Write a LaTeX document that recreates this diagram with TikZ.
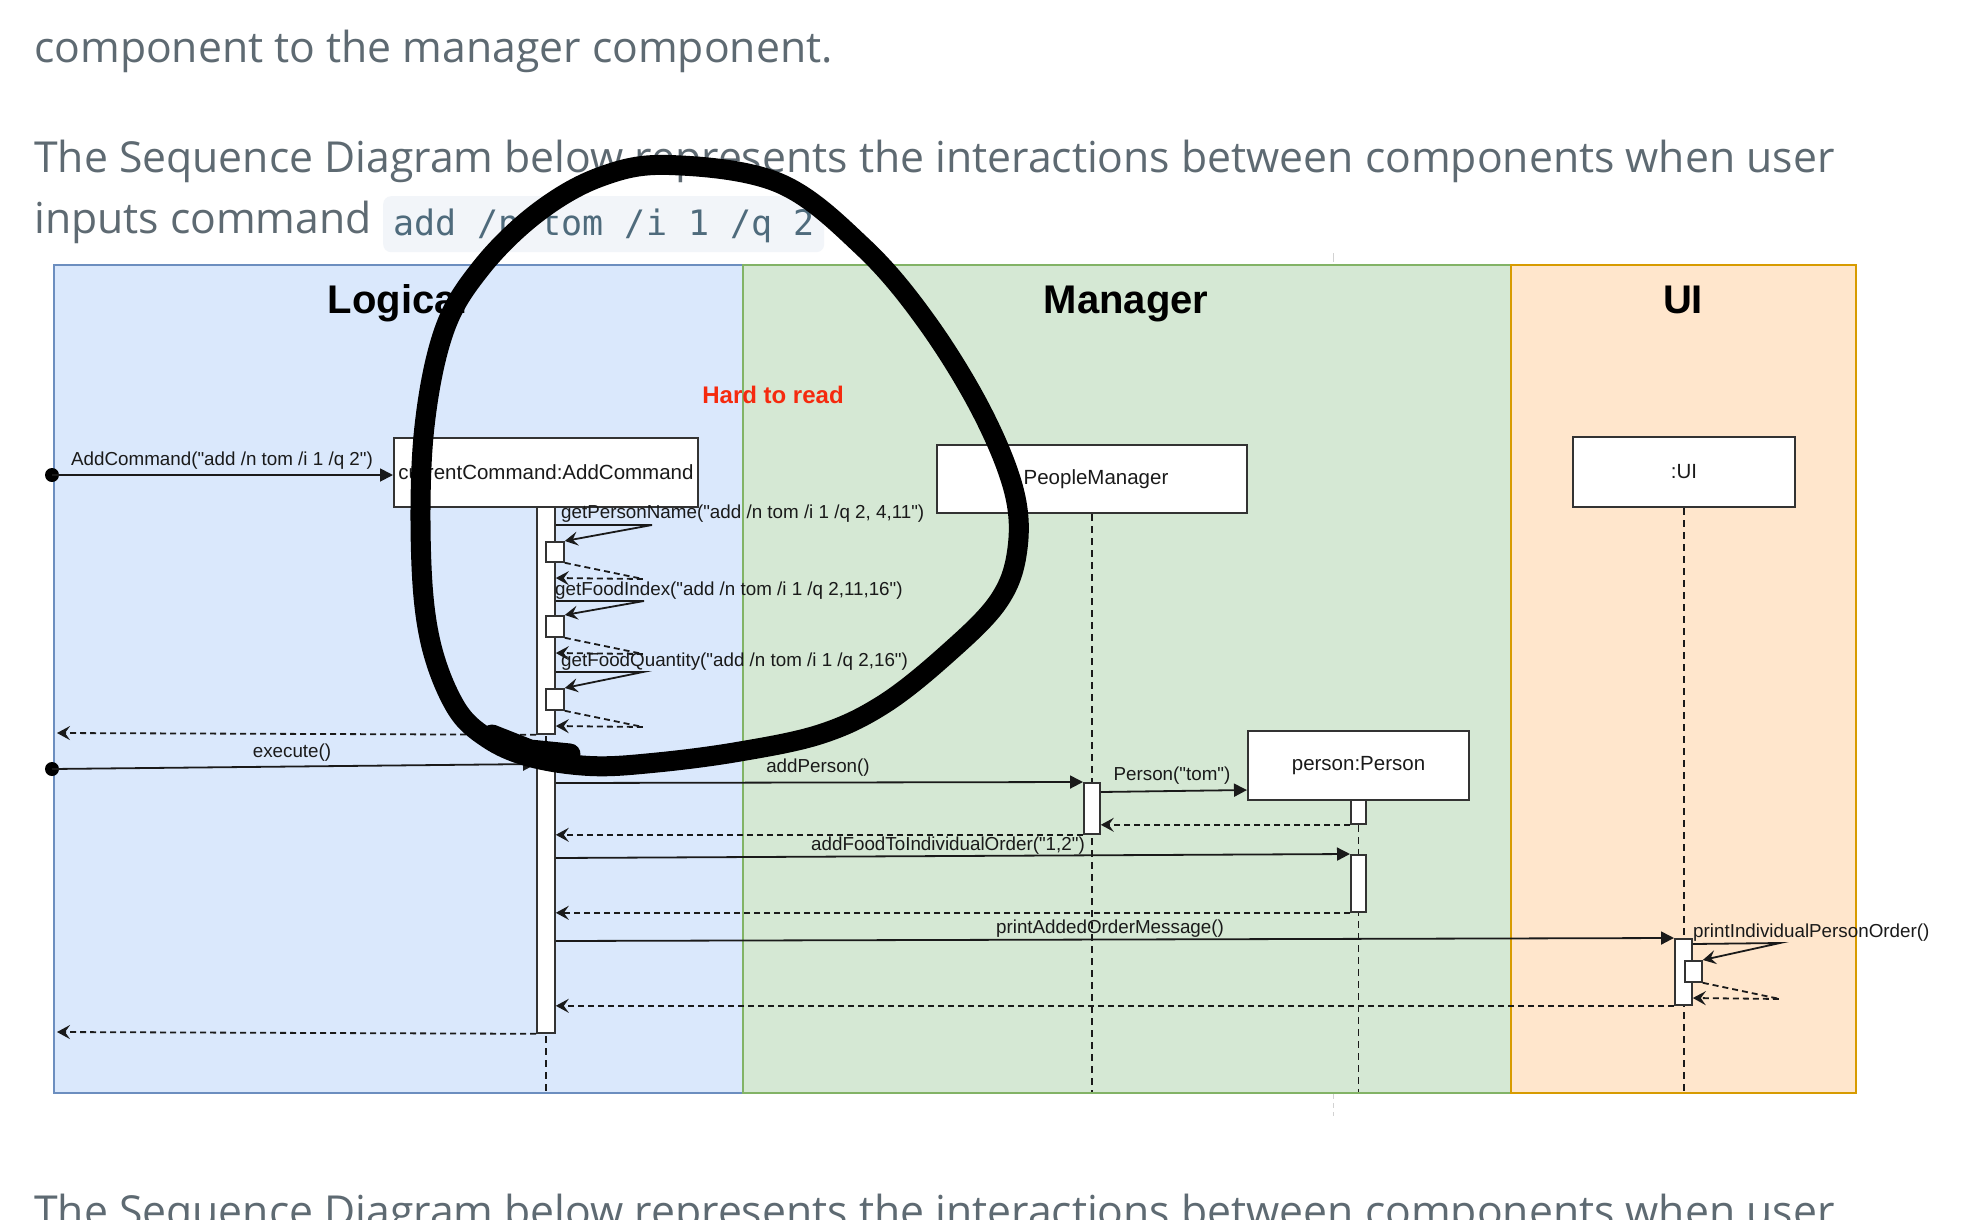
\documentclass[tikz,border=0pt]{standalone}
\usepackage{fontspec}
\setmainfont{Liberation Sans}[Ligatures=TeXOff]
\newfontfamily\pagefont{Open Sans}
\newfontfamily\codefont{DejaVu Sans Mono}
\usetikzlibrary{arrows.meta,calc}
\definecolor{logicfill}{HTML}{DAE8FC}
\definecolor{logicline}{HTML}{6C8EBF}
\definecolor{mgrfill}{HTML}{D5E8D4}
\definecolor{mgrline}{HTML}{82B366}
\definecolor{uifill}{HTML}{FFE6CC}
\definecolor{uiline}{HTML}{D79B00}
\definecolor{pagetext}{HTML}{5E6A72}
\definecolor{codetext}{HTML}{4F6B7C}
\definecolor{codebg}{HTML}{F2F5F9}
\definecolor{hardred}{HTML}{F52A0E}
\definecolor{ink}{HTML}{1A1A1A}
\definecolor{barline}{HTML}{333333}
\begin{document}
\begin{tikzpicture}[x=1pt,y=-1pt,
  lane/.style={line width=2pt, inner sep=0pt, anchor=north west},
  lanetitle/.style={font=\fontsize{40}{48}\selectfont\bfseries, text=black, inner sep=0pt, anchor=base},
  objbox/.style={draw=barline, fill=white, line width=2pt, inner sep=0pt, anchor=north west, font=\fontsize{20.5}{24}\selectfont, text=ink},
  bar/.style={draw=barline, fill=white, line width=1.8pt, inner sep=0pt, anchor=north west},
  lifeline/.style={draw=ink, line width=1.6pt, dash pattern=on 7pt off 5pt},
  msg/.style={draw=ink, line width=1.8pt, -{Triangle[length=13pt,width=13pt]}},
  ret/.style={draw=ink, line width=1.8pt, dash pattern=on 6pt off 4pt, -{Stealth[length=13pt,width=14pt,inset=5pt]}},
  selfmsg/.style={draw=ink, line width=1.8pt, -{Stealth[length=13pt,width=14pt,inset=5pt]}},
  lbl/.style={font=\fontsize{18.8}{22}\selectfont, text=ink, inner sep=0pt},
  ptext/.style={font=\pagefont\fontsize{42.7}{50}\selectfont, text=pagetext, inner sep=0pt, anchor=base west},
  startdot/.style={circle, fill=black, inner sep=0pt, minimum size=14pt},
]
\fill[white] (0,0) rectangle (1988,1220);
\useasboundingbox (0,0) rectangle (1988,1220);

% page text
\node[ptext] (p1) at (34,63) {component to the manager component.};
\node[ptext] (p2) at (34,172) {The Sequence Diagram below represents the interactions between components when user};
\node[ptext] (p3) at (34,233) {inputs command};
\node[fill=codebg, rounded corners=8pt, anchor=north west, minimum width=441pt, minimum height=56pt, inner sep=0pt] (codebox) at (383,196) {};
\node[anchor=base west, font=\codefont\fontsize{35}{40}\selectfont, text=codetext, inner sep=0pt] (code) at (393,235) {add /n tom /i 1 /q 2};
\node[ptext] (p4) at (34,1226) {The Sequence Diagram below represents the interactions between components when user};

% faint page-break marks
\draw[gray!35, line width=1pt] (1333,253) -- (1333,262);
\draw[gray!35, line width=1pt, dash pattern=on 5pt off 4pt] (1333,1094) -- (1333,1116);

% lanes
\node[lane, fill=logicfill, draw=logicline, minimum width=689pt, minimum height=828pt] (laneL) at (53,264) {};
\node[lane, fill=mgrfill, draw=mgrline, minimum width=768pt, minimum height=828pt] (laneM) at (742,264) {};
\node[lane, fill=uifill, draw=uiline, minimum width=345pt, minimum height=828pt] (laneU) at (1510,264) {};
\node[lanetitle] (tL) at (398,313) {Logical};
\node[lanetitle] (tM) at (1126,313) {Manager};
\node[lanetitle] (tU) at (1683,313) {UI};
\node[font=\fontsize{24}{28}\selectfont\bfseries, text=hardred, inner sep=0pt] (hard) at (773,395) {Hard to read};

% objects
\node[objbox, minimum width=304pt, minimum height=69pt] (cmd) at (393,437) {currentCommand:AddCommand};
\node[objbox, minimum width=310pt, minimum height=68pt] (pm) at (936,444) {\hspace*{8pt}PeopleManager};
\node[objbox, minimum width=221pt, minimum height=69pt] (person) at (1247,730) {person:Person};
\node[objbox, minimum width=222pt, minimum height=70pt] (ui) at (1572,436) {:UI};

% lifelines
\draw[lifeline] (cmd.south) -- (cmd.south |- 0,1092);
\draw[lifeline] (pm.south) -- (pm.south |- 0,1092);
\draw[lifeline] (person.south) -- (person.south |- 0,1092);
\draw[lifeline] (ui.south) -- (ui.south |- 0,1092);

% activation bars
\node[bar, minimum width=18pt, minimum height=227pt] (cA1) at (536,506) {};
\node[bar, minimum width=18pt, minimum height=269pt] (cA2) at (536,763) {};
\node[bar, minimum width=18pt, minimum height=20pt] (s1) at (545,541) {};
\node[bar, minimum width=18pt, minimum height=21pt] (s2) at (545,615) {};
\node[bar, minimum width=18pt, minimum height=21pt] (s3) at (545,688) {};
\node[bar, minimum width=16pt, minimum height=51pt] (pmA) at (1083,782) {};
\node[bar, minimum width=15pt, minimum height=24pt] (pA1) at (1350,799) {};
\node[bar, minimum width=15pt, minimum height=57pt] (pA2) at (1350,854) {};
\node[bar, minimum width=17pt, minimum height=66pt] (uiA) at (1674,938) {};
\node[bar, minimum width=17pt, minimum height=21pt] (uiS) at (1684,960) {};

% messages
\node[startdot] (d1) at (52,475) {};
\draw[msg] (d1.center) -- (d1 -| cmd.west);
\node[lbl] (l1) at (222,461) {AddCommand("add /n tom /i 1 /q 2")};

\draw[selfmsg] (cA1.east |- 0,525) -- (652,525) -- (s1.north east);
\node[lbl, anchor=west] (l2) at (561,514) {getPersonName("add /n tom /i 1 /q 2, 4,11")};
\draw[ret] (s1.south east) -- (643,579) -- (cA1.east |- 0,578);

\draw[selfmsg] (cA1.east |- 0,601) -- (644,601) -- (s2.north east);
\node[lbl, anchor=west] (l3) at (555,591) {getFoodIndex("add /n tom /i 1 /q 2,11,16")};
\draw[ret] (s2.south east) -- (643,654) -- (cA1.east |- 0,653);

\draw[selfmsg] (cA1.east |- 0,672) -- (643,672) -- (s3.north east);
\node[lbl, anchor=west] (l4) at (561,662) {getFoodQuantity("add /n tom /i 1 /q 2,16")};
\draw[ret] (s3.south east) -- (643,727) -- (cA1.east |- 0,726);

\coordinate (lret1) at (57,733);
\draw[ret] (cA1.south west) -- (lret1);

\node[startdot] (d2) at (52,769) {};
\draw[msg] (d2.center) -- (cA2.west |- 0,764);
\node[lbl] (l5) at (292,753) {execute()};

\draw[msg] (cA2.east |- 0,783) -- (pmA.north west);
\node[lbl] (l6) at (818,768) {addPerson()};

\draw[msg] (pmA.east |- 0,792) -- (person.west |- 0,790);
\node[lbl] (l7) at (1172,776) {Person("tom")};
\draw[ret] (pA1.south west) -- (pmA.east |- pA1.south west);
\draw[ret] (pmA.south west) -- (cA2.east |- pmA.south west);

\draw[msg] (cA2.east |- 0,858) -- (pA2.north west);
\node[lbl] (l8) at (948,846) {addFoodToIndividualOrder("1,2")};
\draw[ret] (pA2.south west) -- (cA2.east |- pA2.south west);

\draw[msg] (cA2.east |- 0,941) -- (uiA.north west);
\node[lbl] (l9) at (1110,929) {printAddedOrderMessage()};

\draw[selfmsg] (uiA.east |- 0,944) -- (1780,943) -- (uiS.north east);
\node[lbl, anchor=west] (l10) at (1693,933) {printIndividualPersonOrder()};
\draw[ret] (uiS.south east) -- (1780,999) -- (uiA.east |- 0,998);

\draw[ret] (uiA.south west) -- (cA2.east |- uiA.south west);
\coordinate (lret2) at (57,1032);
\draw[ret] (cA2.south west) -- (lret2);

% hand-drawn black loop
\draw[line width=20pt, line cap=round, line join=round] plot[smooth cycle, tension=0.6] coordinates {
 (669,165) (779,183) (863,247) (926,321) (981,410) (1014,491) (1017,552) (998,602)
 (947,654) (884,704) (821,734) (737,752) (652,763) (590,766) (530,757) (487,738)
 (455,706) (430,640) (421,552) (424,431) (444,331) (481,268) (537,213) (600,177)};
\draw[line width=21pt, line cap=round] (492,735) -- (530,750) -- (570,754);
\end{tikzpicture}
\end{document}
